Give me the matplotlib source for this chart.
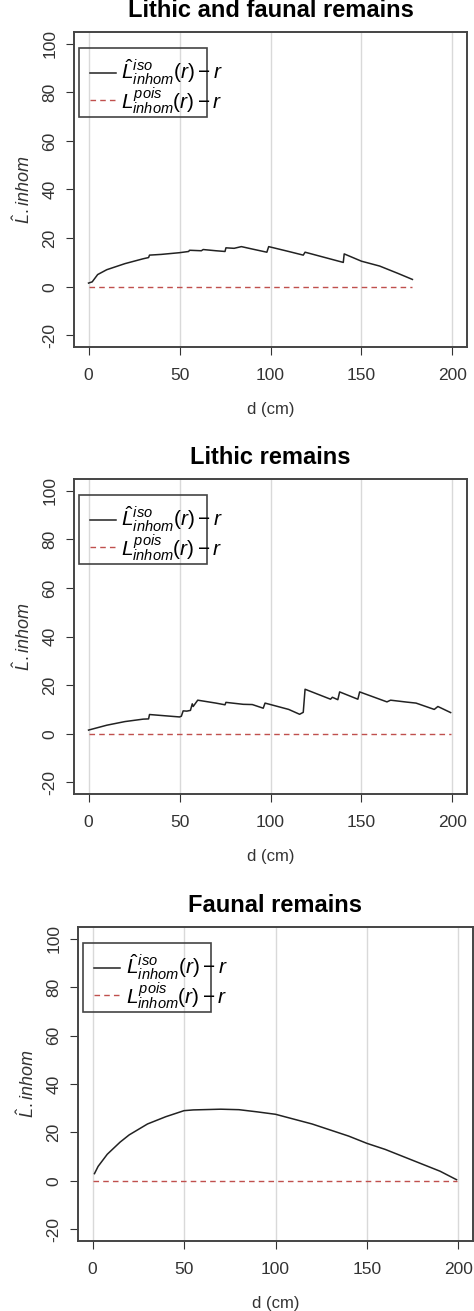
import matplotlib
matplotlib.use("Agg")
import matplotlib.pyplot as plt
from matplotlib.patches import Rectangle

plt.rcParams['font.family'] = ['Liberation Sans', 'DejaVu Sans']
plt.rcParams['mathtext.fontset'] = 'custom'
plt.rcParams['mathtext.it'] = 'Liberation Sans:italic'
plt.rcParams['mathtext.rm'] = 'Liberation Sans'

titles = ["Lithic and faunal remains", "Lithic remains", "Faunal remains"]

x1 = [0, 2, 5, 10, 20, 30, 33, 33.5, 40, 50, 55, 55.5, 62, 63, 70, 75, 75.5, 80, 84, 90, 98, 99,
      110, 118, 119, 130, 140, 140.5, 150, 160, 170, 178]
y1 = [1.5, 2, 5, 7, 9.5, 11.5, 12, 13, 13.3, 14, 14.5, 15, 14.8, 15.3, 14.8, 14.5, 16, 15.8, 16.5,
      15.5, 14.2, 16.5, 14.5, 13, 14.2, 12, 10, 13.5, 10.5, 8.5, 5.5, 3]

x2 = [0, 10, 20, 30, 33, 33.5, 50, 51, 52, 54, 56, 57, 57.5, 60, 70, 75, 75.5, 85, 90, 96, 97,
      110, 116, 118, 119, 133, 134, 137, 138, 148, 149, 164, 166, 175, 180, 190, 192, 199]
y2 = [1.5, 3.5, 5, 6, 6.1, 7.9, 6.9, 7.2, 9.4, 9.3, 9.6, 12.3, 11.2, 13.8, 12.6, 11.9, 12.9, 12.1,
      12.0, 10.5, 12.6, 10.0, 8.0, 8.8, 18.3, 14.2, 15.0, 14.0, 17.2, 14.2, 17.2, 13.1, 13.8, 13.0,
      12.6, 10.0, 11.2, 8.7]

x3 = [1, 3, 8, 15, 20, 30, 40, 50, 55, 70, 80, 90, 100, 110, 120, 130, 140, 150, 160, 170, 180,
      190, 199]
y3 = [3, 6, 11, 16, 19, 23.5, 26.5, 29, 29.3, 29.6, 29.4, 28.5, 27.5, 25.5, 23.5, 21, 18.5, 15.5,
      13, 10, 7, 4, 0.5]

xs = [x1, x2, x3]
ys = [y1, y2, y3]
pois_end = [178, 199, 199]

W, H = 474, 1311
fig = plt.figure(figsize=(W / 100, H / 100), dpi=100)
boxes = [(74, 32, 467, 347), (74, 479, 467, 794), (78, 927, 473, 1241)]
edge = '#444444'
for i in range(3):
    l, t, r, b = boxes[i]
    ax = fig.add_axes([l / W, 1 - b / H, (r - l) / W, (b - t) / H])
    ax.set_xlim(-8, 208)
    ax.set_ylim(-24.8, 104.8)
    for g in [0, 50, 100, 150, 200]:
        ax.axvline(g, color='#d9d9d9', lw=1, zorder=0)
    ax.plot(xs[i], ys[i], color='#222222', lw=1.1)
    ax.plot([0, pois_end[i]], [0, 0], color='#c0504d', lw=1, ls=(0, (4, 3)))
    ax.set_xticks([0, 50, 100, 150, 200])
    ax.set_yticks([-20, 0, 20, 40, 60, 80, 100])
    ax.set_yticklabels(['-20', '0', '20', '40', '60', '80', '100'], rotation=90, va='center')
    ax.tick_params(labelsize=12.5, colors='#333333', length=6)
    ax.tick_params(axis='x', pad=9)
    ax.tick_params(axis='y', pad=6)
    for s in ax.spines.values():
        s.set_color(edge)
        s.set_linewidth(1.4)
    ax.set_title(titles[i], fontsize=17, fontweight='bold', pad=11)
    ax.set_xlabel('d (cm)', fontsize=12, color='#333333', labelpad=14)
    ax.set_ylabel(r'$\hat{L}.inhom$', fontsize=13, color='#333333', labelpad=6)
    # legend
    ax.add_patch(Rectangle((-5, 69.8), 70, 28.4, fill=False, ec=edge, lw=1.2,
                           transform=ax.transData, zorder=3))
    ax.plot([1, 15], [88, 88], color='#222222', lw=1.1)
    ax.plot([1, 15], [76.8, 76.8], color='#c0504d', lw=1, ls=(0, (4, 3)))
    ax.text(18, 88, r'$\hat{L}^{iso}_{inhom}(r)-r$', fontsize=15, va='center')
    ax.text(18, 76.3, r'$L^{pois}_{inhom}(r)-r$', fontsize=15, va='center')

fig.savefig('out.png', dpi=100)
